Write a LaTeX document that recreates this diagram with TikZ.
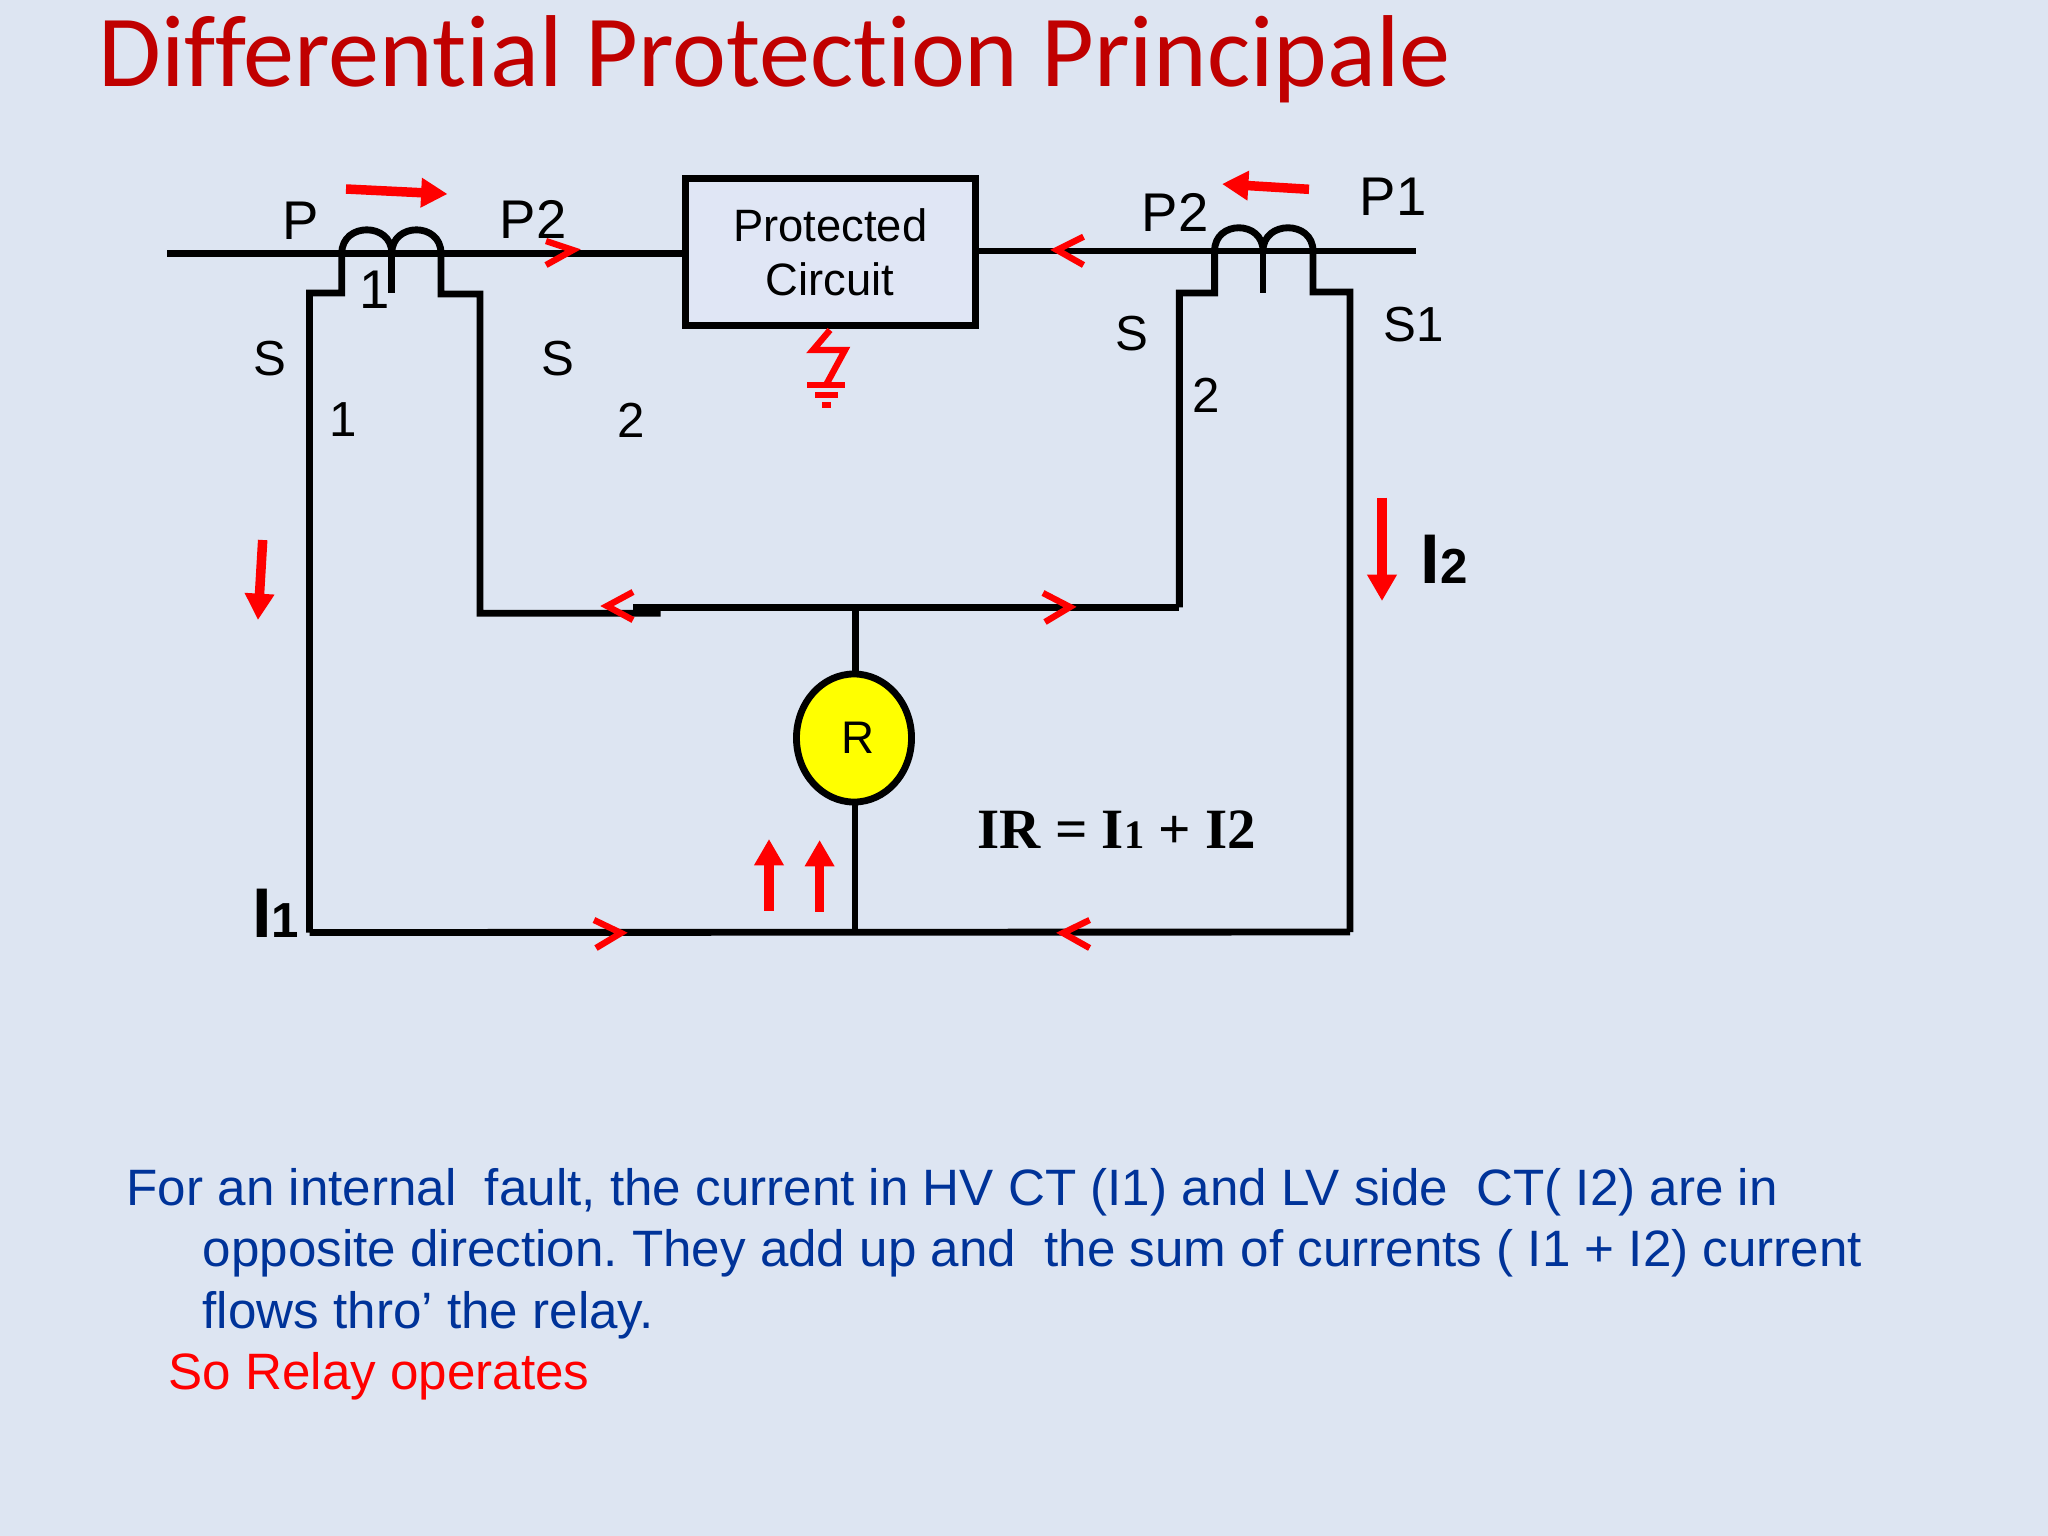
\documentclass[tikz,border=0pt]{standalone}
\usepackage{xcolor}
\usepackage{fontspec}
\setmainfont{Liberation Sans}
\newfontfamily\titlefont[Ligatures=NoCommon]{Carlito}
\newfontfamily\timesfont{Liberation Serif}
\definecolor{Back}{RGB}{221,229,242}
\definecolor{BoxFill}{RGB}{224,230,245}
\definecolor{Red}{RGB}{255,0,0}
\definecolor{DarkRed}{RGB}{192,0,0}
\definecolor{Blue}{RGB}{0,51,153}
\definecolor{Yellow}{RGB}{255,255,0}
\definecolor{Black}{RGB}{0,0,0}
\usetikzlibrary{arrows.meta,shapes.geometric}
\frenchspacing
\tikzset{
	wire/.style={draw=Black, line width=1.95pt},
	flow/.style={draw=Red, line width=2.7pt, -{Triangle[length=7.5pt,width=8pt]}},
	chevron/.style={draw=Red, line width=1.8pt},
	lab/.style={inner sep=0pt, font=\fontsize{15.5pt}{18pt}\selectfont},
	sublab/.style={inner sep=0pt, font=\fontsize{14pt}{17pt}\selectfont},
	para/.style={inner sep=0pt, anchor=base west, font=\fontsize{14.55pt}{17pt}\selectfont}
}
\begin{document}
\begin{tikzpicture}[x=0.01cm, y=-0.01cm]

		% Background
		\fill[Back] (0,0) rectangle (2048,1536);
		\useasboundingbox (0,0) rectangle (2048,1536);

		% Title
		\node[anchor=base west, inner sep=0pt, color=DarkRed, font=\titlefont\fontsize{29.05pt}{34pt}\selectfont] (title) at (98,86) {Differential Protection Principale};

		% Protected circuit and relay
		\node[rectangle, draw=Black, fill=BoxFill, line width=1.95pt, outer sep=0pt, minimum width=2.895cm, minimum height=1.467cm, align=center, font=\fontsize{12.9pt}{15.2pt}\selectfont] (box) at (830.25,252.3) {Protected\\Circuit};
		\node[ellipse, draw=Black, fill=Yellow, line width=1.95pt, inner sep=0pt, outer sep=0pt, minimum width=1.15cm, minimum height=1.28cm, font=\fontsize{13pt}{15pt}\selectfont] (relay) at (854,738) {\hspace{2.2pt}R};

		% Named points
		\coordinate (lineL) at (167,253.3);
		\coordinate (lineR) at (1416,251);
		\coordinate (botL) at (309.5,932.5);
		\coordinate (botR) at (1350,932);
		\coordinate (botM) at (855,932.5);
		\coordinate (topM) at (855.7,607.3);

		% Main line
		\draw[wire] (lineL) -- (box.west |- lineL);
		\draw[wire] (box.east |- lineR) -- (lineR);

		% Left CT
		\draw[wire] (309.5,932.5) -- (309.5,293) -- (341.8,293) -- (341.8,253.3) .. controls (341.8,222) and (391.8,222) .. (391.8,253.3) .. controls (391.8,222) and (441,222) .. (441,253.3) -- (441,294) -- (480,294) -- (480,613.3) -- (660.7,613.3);
		\draw[wire] (391.8,253.3) -- (391.8,293);

		% Right CT
		\draw[wire] (1179.4,607.3) -- (1179.4,293) -- (1214.6,293) -- (1214.6,251) .. controls (1214.6,220) and (1263,220) .. (1263,251) .. controls (1263,220) and (1313,220) .. (1313,251) -- (1313,292) -- (1350,292) -- (1350,932);
		\draw[wire] (1263,251) -- (1263,293);

		% Rails
		\draw[wire] (633,607.3) -- (1179.4,607.3);
		\draw[wire] (botL) -- (botR);
		\draw[wire] (topM) -- (relay.north -| topM);
		\draw[wire] (relay.south -| botM) -- (botM);

		% Fault
		\draw[chevron] (830,330) -- (813,350) -- (845,350) -- (826,385);
		\fill[Red] (807,382) rectangle (845,388);
		\fill[Red] (814.6,392) rectangle (837.5,398);
		\fill[Red] (822,402) rectangle (831,408);

		% Arrows
		\draw[flow] (346,189) -- (447.5,194);
		\draw[flow] (1309,189.3) -- (1222,184);
		\draw[flow] (262.7,540) -- (258,620);
		\draw[flow] (1382,497.6) -- (1382,601);
		\draw[flow] (769,910.7) -- (769,839);
		\draw[flow] (819.6,911.7) -- (819.6,840);

		% Chevrons
		\draw[chevron] (546,241) -- (573,250) -- (546,265);
		\draw[chevron] (1083.5,236.7) -- (1057,250) -- (1083.5,265);
		\draw[chevron] (633,592) -- (607,606) -- (633,620);
		\draw[chevron] (1043,593) -- (1070,607) -- (1045,622);
		\draw[chevron] (594,920) -- (621,933) -- (596,948);
		\draw[chevron] (1089.6,920) -- (1063,933) -- (1089.6,948);

		% Text
		\node[lab] (p) at (301,221) {P};
		\node[lab] (p2l) at (533,219) {P2};
		\node[lab] (onec) at (375,290) {1};
		\node[sublab] (sl) at (270,359) {S};
		\node[sublab] (sr) at (558,359) {S};
		\node[sublab] (onel) at (343,420) {1};
		\node[sublab] (twol) at (631,420) {2};
		\node[lab] (p2r) at (1175,212) {P2};
		\node[lab] (p1) at (1393,197) {P1};
		\node[sublab] (srr) at (1132,334) {S};
		\node[sublab] (s1) at (1414,325) {S1};
		\node[sublab] (twor) at (1206,395) {2};

		% Currents
		\node[anchor=base west, inner sep=0pt, font=\bfseries] (i1) at (252,937) {\fontsize{20pt}{22pt}\selectfont I\kern-0.3pt\fontsize{14pt}{17pt}\selectfont 1};
		\node[anchor=base west, inner sep=0pt, font=\bfseries] (i2) at (1420,583) {\fontsize{20pt}{22pt}\selectfont I\fontsize{14pt}{17pt}\selectfont 2};
		\node[anchor=base west, inner sep=0pt, font=\timesfont\bfseries\fontsize{16.2pt}{20pt}\selectfont] (sum) at (977,848) {IR = I{\fontsize{11.5pt}{14pt}\selectfont 1} + I2};

		% Paragraph
		\node[para, color=Blue] (lineA) at (126,1205) {For an internal~ fault, the current in HV CT (I1) and LV side~ CT( I2) are in};
		\node[para, color=Blue] (lineB) at (202,1266.7) {opposite direction. They add up and~ the sum of currents ( I1 + I2) current};
		\node[para, color=Blue] (lineC) at (202,1328) {flows thro’ the relay.};
		\node[para, color=Red] (lineD) at (168,1389) {So Relay operates};

\end{tikzpicture}
\end{document}
